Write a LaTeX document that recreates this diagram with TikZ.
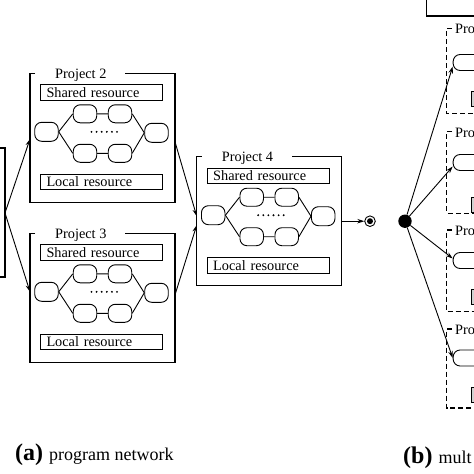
\documentclass[tikz,border=0pt]{standalone}
\usepackage{fontspec}
\setmainfont{Liberation Serif}
\usetikzlibrary{arrows.meta,calc}
\tikzset{
  frame/.style={line width=1.1pt},
  dashframe/.style={line width=1.1pt, dash pattern=on 5pt off 3pt},
  resbox/.style={draw, line width=1pt, anchor=north west, minimum height=15.5pt,
     text width=110pt, inner xsep=6pt, inner ysep=0pt, align=left,
     font=\fontsize{14.3}{16}\selectfont},
  act/.style={draw, line width=0.9pt, rounded corners=7pt, minimum width=23.5pt,
     minimum height=19pt, inner sep=0pt},
  link/.style={line width=0.9pt},
  arr/.style={line width=0.9pt, -{Stealth[length=7pt,width=4.5pt]}},
  lbl/.style={font=\fontsize{14.3}{16}\selectfont, inner sep=0pt, anchor=base west},
  greybox/.style={draw, line width=0.9pt, fill=gray!35},
  pics/project/.style={code={
    \node[minimum width=145pt, minimum height=129pt, inner sep=0pt, outer sep=0pt,
          anchor=north west] (-box) at (0,0) {};
    \draw[frame] (5,0) -- (0,0) -- (0,129) -- (145,129) -- (145,0) -- (95,0);
    \node[lbl] (-title) at (25,5) {#1};
    \node[resbox] (-shared) at (10,11) {Shared resource};
    \node[resbox] (-local) at (10,100.5) {Local resource};
    \node[act] (-L) at (16.5,58.5) {};
    \node[act, minimum height=18pt] (-U1) at (55,40.5) {};
    \node[act, minimum height=18pt] (-U2) at (90,40.5) {};
    \node[act, minimum height=18pt] (-D1) at (55,80) {};
    \node[act, minimum height=18pt] (-D2) at (90,80) {};
    \node[act] (-R) at (126.5,59.5) {};
    \draw[link] (-L.east) -- (-U1.west) (-U1.east) -- (-U2.west) (-U2.east) -- (-R.west);
    \draw[link] (-L.east) -- (-D1.west) (-D1.east) -- (-D2.west) (-D2.east) -- (-R.west);
    \foreach \i in {0,...,5} { \fill (61.5+5.1*\i,58.5) circle (1.05pt); }
  }}
}
\begin{document}
\begin{tikzpicture}[x=1pt,y=-1pt]
\useasboundingbox (0,0) rectangle (474,474);
\clip (0,0) rectangle (474,474);
% left partial box
\draw[frame] (-5,148) -- (5,148) -- (5,277) -- (-5,277);
\coordinate (src) at (5,213);
% projects
\pic (p2) at (30,73.3) {project={Project 2}};
\pic (p3) at (30,233.3) {project={Project 3}};
\pic (p4) at (196.7,156.7) {project={Project 4}};
% arrows
\draw[arr] (src) -- ([yshift=-1.2pt]p2-box.west);
\draw[arr] (src) -- ([yshift=6pt]p3-box.west);
\draw[arr] ([yshift=-4pt]p2-box.east) -- ([yshift=5pt]p4-box.west);
\draw[arr] ([yshift=3pt]p3-box.east) -- ([yshift=-4pt]p4-box.west);
% end node
\node[circle, draw, line width=0.9pt, minimum size=10.6pt, inner sep=0pt] (end) at (370,221.2) {};
\fill (end.center) circle (3pt);
\draw[arr] (p4-box.east) -- (end);
% fork
\node[circle, fill, minimum size=13.4pt, inner sep=0pt] (fork) at (405,221.2) {};
% right side
\draw[frame] (426.7,-5) rectangle (480,16);
\foreach \t/\b/\n/\g [count=\k] in {28.3/113.3/62.5/91, 131.7/213.3/162.5/197, 230/311.7/260.5/289, 329/408/358/387} {
  \draw[dashframe] (452,\t) -- (446.7,\t) -- (446.7,\b) -- (480,\b);
  \node[lbl] (t\k) at (455,\t+5.5) {Pro};
  \node[act, minimum width=40pt, minimum height=16pt, anchor=west] (r\k) at (452.7,\n) {};
  \draw[greybox] (471.7,\g) rectangle (480,\g+15);
}
\draw[arr] (fork) -- ([yshift=-4pt]r1.west);
\draw[arr] (fork) -- ([yshift=-4pt]r2.west);
\draw[arr] (fork) -- ([yshift=2pt]r3.west);
\draw[arr] (fork) -- (r4.west);
% captions
\node[inner sep=0pt, anchor=base west] (capa) at (15,460)
  {{\fontsize{24}{26}\selectfont\bfseries (a)}\hspace{6pt}{\fontsize{18}{20}\selectfont program network}};
\node[inner sep=0pt, anchor=base west] (capb) at (403,463)
  {{\fontsize{24}{26}\selectfont\bfseries (b)}\hspace{6pt}{\fontsize{18}{20}\selectfont mult}};
\end{tikzpicture}
\end{document}
